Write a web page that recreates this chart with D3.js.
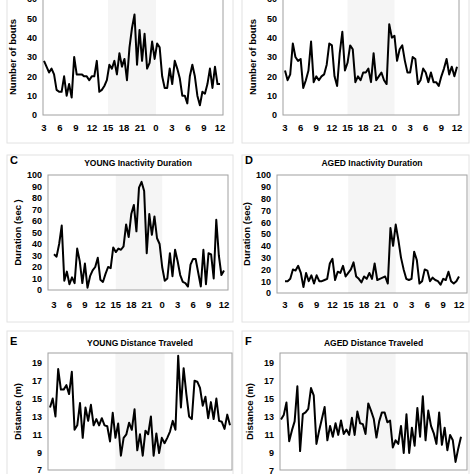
<!DOCTYPE html><html><head><meta charset="utf-8"><script src="https://cdn.jsdelivr.net/npm/d3@7"></script>
<style>body{margin:0;background:#fff}svg{display:block;font-family:"Liberation Sans",Arial,sans-serif;font-weight:bold}</style></head><body>
<script>
const xTickLabels=["3","6","9","12","15","18","21","0","3","6","9","12"];
const bootsYoung=[28,25,22,24,21,13,12,12,20,10,16,9,30,21,21,21,20,20,18,20,20,28,12,13,15,18,26,24,28,21,32,25,29,18,35,45,52,26,44,28,42,24,27,38,29,37,35,20,14,14,24,16,28,24,19,10,10,6,20,26,20,10,5,12,11,16,24,14,25,16,16];
const boutsAged=[23,18,21,37,30,28,29,14,18,23,38,17,20,18,20,21,26,37,36,20,15,32,43,23,27,36,34,17,20,18,22,22,24,17,32,18,20,22,18,16,47,40,41,28,34,36,28,22,22,30,29,16,18,24,22,17,22,17,17,15,20,24,29,21,25,20,25];
const inactYoung=[31,29,40,56,8,16,5,11,6,36,25,6,23,2,12,17,20,28,9,7,14,20,19,37,33,36,35,38,57,46,66,74,51,89,94,86,32,66,48,64,45,40,20,8,10,32,12,35,25,13,7,6,3,22,27,27,15,3,35,5,32,31,10,61,30,13,17];
const inactAged=[10,10,12,20,19,23,17,5,17,10,15,8,15,10,10,11,12,25,29,11,18,17,23,14,17,20,26,14,12,9,14,12,17,12,25,11,12,13,14,8,55,40,58,45,30,20,12,11,12,35,28,8,10,20,19,10,13,11,10,7,12,11,18,10,8,10,14];
const distYoung=[14,15,13,18.3,16,16,16.5,15.5,18,11.5,12,14.5,10.6,14,12.5,14.3,12,12.7,12,12.8,12,11.9,10.2,13.4,10.6,12.2,8.6,10.6,11,12.3,11.5,13.8,9.2,11,8.6,11.4,11,13,8.6,11.1,8.9,10.6,10,10.6,11.3,12.5,11.5,19.8,14,18.4,15.5,13,12.7,17,16.9,16.2,14.2,15.2,12.8,14.6,12.7,15,12.5,12.4,11.6,13.2,12];
const distAged=[12.7,13.2,14.6,10.3,11.5,12.5,16.4,9.2,13.3,13.5,13.9,16.2,15.4,10,11.5,12.8,14.1,10.4,12,10.8,12.3,11,12.6,11.1,11.6,11,12.9,11,13.6,12.3,12.2,11.1,14.5,13.7,12.8,10.7,12.5,13.5,13.5,12.4,12.6,9.6,10.4,10,12,9,13.3,9,11.8,9.8,14,10.8,15.3,10.4,13.7,12,11.2,10,13.5,9.9,11.8,9.3,11,10.4,8,9.5,10.8];

const svg=d3.select("body").append("svg").attr("width",474).attr("height",474);
[[7,-30,226,173],[242,-30,227,173],[7,155,226,167],[242,155,227,167],[7,331,226,160],[242,331,227,160]].forEach(b=>
 svg.append("rect").attr("x",b[0]).attr("y",b[1]).attr("width",b[2]).attr("height",b[3]).attr("fill","none").attr("stroke","#e2e2e2"));

const panels=[
 {data:bootsYoung,fx:[43,223],fy:[-1,115],xr:[44,220],dom:[0,60],ticks:[0,10,20,30,40,50,60],yl:"Number of bouts",xl:128,lbl:"",title:""},
 {data:boutsAged,fx:[283,459],fy:[-1,115],xr:[285,457],dom:[0,60],ticks:[0,10,20,30,40,50,60],yl:"Number of bouts",xl:128,lbl:"",title:""},
 {data:inactYoung,fx:[48,228],fy:[175,290],xr:[54,224],dom:[0,100],ticks:d3.range(0,101,10),yl:"Duration (sec )",xl:305,lbl:"C",title:"YOUNG Inactivity Duration",ly:164,ty:166},
 {data:inactAged,fx:[277,467],fy:[175,293],xr:[285,459],dom:[0,100],ticks:d3.range(0,101,10),yl:"Duration (sec)",xl:305,lbl:"D",title:"AGED Inactivity Duration",ly:164,ty:166},
 {data:distYoung,fx:[48,232],fy:[353,470],xr:[50,230],dom:[7,20.1],ticks:[7,9,11,13,15,17,19],yl:"Distance (m)",xl:null,lbl:"E",title:"YOUNG Distance Traveled",ly:345,ty:346},
 {data:distAged,fx:[280,467],fy:[353,470],xr:[281,461],dom:[7.1,20.1],ticks:[7,9,11,13,15,17,19],yl:"Distance (m)",xl:null,lbl:"F",title:"AGED  Distance Traveled",ly:345,ty:346}
];
panels.forEach(p=>{
 const g=svg.append("g");
 const x=d3.scaleLinear().domain([3,36]).range(p.xr);
 const y=d3.scaleLinear().domain(p.dom).range([p.fy[1],p.fy[0]]);
 g.append("rect").attr("x",x(15)).attr("y",p.fy[0]).attr("width",x(24)-x(15)).attr("height",p.fy[1]-p.fy[0]).attr("fill","#f5f5f5");
 g.append("rect").attr("x",p.fx[0]).attr("y",p.fy[0]).attr("width",p.fx[1]-p.fx[0]).attr("height",p.fy[1]-p.fy[0]).attr("fill","none").attr("stroke","#a0a0a0").attr("stroke-width",1);
 const n=p.data.length;
 const line=d3.line().x((d,i)=>x(3+i*33/(n-1))).y(d=>y(d));
 g.append("path").datum(p.data).attr("d",line).attr("fill","none").attr("stroke","#000").attr("stroke-width",2).attr("stroke-linejoin","round");
 const ax=d3.axisLeft(y).tickValues(p.ticks).tickSize(0).tickPadding(6);
 const ga=g.append("g").attr("transform",`translate(${p.fx[0]},0)`).call(ax);
 ga.select(".domain").remove();
 ga.selectAll("text").attr("font-size",9).attr("font-weight","bold").attr("font-family","Liberation Sans");
 if(p.xl!=null){
  xTickLabels.forEach((t,i)=>g.append("text").attr("x",x(3+i*3)).attr("y",p.xl+3).attr("text-anchor","middle").attr("font-size",9.5).text(t));
 }
 const cy=(p.fy[0]+p.fy[1])/2;
 g.append("text").attr("transform",`translate(${p.fx[0]-27},${cy}) rotate(-90)`).attr("text-anchor","middle").attr("font-size",9.5).text(p.yl);
 if(p.lbl){
  g.append("text").attr("x",p.fx[0]<200?10:245).attr("y",p.ly).attr("font-size",11).text(p.lbl);
  g.append("text").attr("x",(p.fx[0]+p.fx[1])/2).attr("y",p.ty).attr("text-anchor","middle").attr("font-size",8.5).text(p.title);
 }
});
</script></body></html>
